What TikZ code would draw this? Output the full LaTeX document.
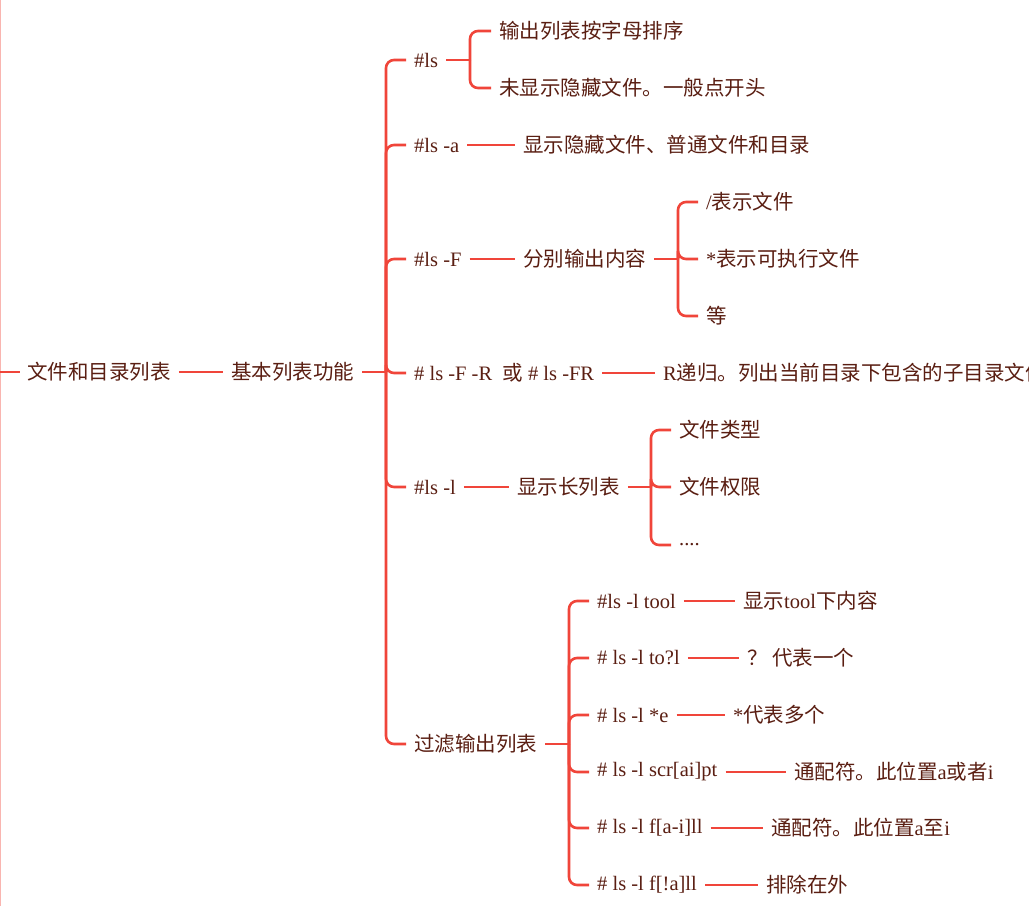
\documentclass[tikz,border=0pt]{standalone}
\usepackage{fontspec}
\setmainfont{Liberation Serif}
\newfontfamily\cjk{Noto Sans CJK SC}
\definecolor{ln}{HTML}{F0453A}
\definecolor{tx}{HTML}{5A1E12}
\begin{document}
\begin{tikzpicture}[x=1pt,y=-1pt,
  c/.style={draw=ln,line width=2.6pt,rounded corners=8pt},
  t/.style={anchor=west,inner xsep=8pt,inner ysep=2pt,text=tx,font=\fontsize{20.5}{24}\selectfont}]
\clip (0,0) rectangle (1029,906);
\fill[white] (0,0) rectangle (1029,906);
\draw[ln!40,line width=1pt] (0.5,0) -- (0.5,906);
\coordinate (L) at (0,372);
\newcommand\N[4]{\node[t] (#1) at (#2-8,#3) {#4};}
\N{r}{27}{372}{\cjk 文件和目录列表}
\N{b}{231}{372}{\cjk 基本列表功能}
\N{l1}{414}{60}{\#ls}
\N{l2}{414}{145}{\#ls -a}
\N{l3}{414}{259}{\#ls -F}
\N{l4}{414}{373}{\# ls -F -R\ \ {\cjk 或} \# ls -FR}
\N{l5}{414}{487}{\#ls -l}
\N{l6}{414}{744}{\cjk 过滤输出列表}
\N{a1}{499}{31}{\cjk 输出列表按字母排序}
\N{a2}{499}{88}{\cjk 未显示隐藏文件。一般点开头}
\N{b1}{523}{145}{\cjk 显示隐藏文件、普通文件和目录}
\N{c1}{523}{259}{\cjk 分别输出内容}
\N{c11}{706}{202}{/{\cjk 表示文件}}
\N{c12}{706}{259}{*{\cjk 表示可执行文件}}
\N{c13}{706}{316}{\cjk 等}
\N{d1}{663}{373}{R{\cjk 递归。列出当前目录下包含的子目录文件}}
\N{e1}{517}{487}{\cjk 显示长列表}
\N{e11}{679}{430}{\cjk 文件类型}
\N{e12}{679}{487}{\cjk 文件权限}
\N{e13}{679}{545}{....}
\N{f1}{597}{601}{\#ls -l tool}
\N{f2}{597}{658}{\# ls -l to?l}
\N{f3}{597}{715}{\# ls -l *e}
\N{f4}{597}{772}{\# ls -l scr[ai]pt}
\N{f5}{597}{828}{\# ls -l f[a-i]ll}
\N{f6}{597}{885}{\# ls -l f[!a]ll}
\N{g1}{743}{601}{{\cjk 显示}tool{\cjk 下内容}}
\N{g2}{747}{658}{{\cjk ？ 代表一个}}
\N{g3}{733}{715}{*{\cjk 代表多个}}
\N{g4}{794}{772}{{\cjk 通配符。此位置}a{\cjk 或者}i}
\N{g5}{771}{828}{{\cjk 通配符。此位置}a{\cjk 至}i}
\N{g6}{766}{885}{\cjk 排除在外}
\draw[c] (L) -- ++(20,0);
\draw[c] (r.east) -- (b.west);
\draw[c] (l2.east) -- (b1.west);
\draw[c] (l3.east) -- (c1.west);
\draw[c] (l4.east) -- (d1.west);
\draw[c] (l5.east) -- (e1.west);
\foreach \i in {1,...,6}{\draw[c] (f\i.east) -- (g\i.west);}
\coordinate (bs) at (386,372);
\coordinate (s1) at (470,60);
\coordinate (s3) at (678,259);
\coordinate (s5) at (651,487);
\coordinate (s6) at (569,744);
\draw[c] (b.east) -- (bs);
\foreach \k in {l1,l2,l3,l4,l5,l6}{\draw[c] (bs) |- (\k.west);}
\draw[c] (l1.east) -- (s1);
\foreach \k in {a1,a2}{\draw[c] (s1) |- (\k.west);}
\draw[c] (c1.east) -- (s3);
\foreach \k in {c11,c12,c13}{\draw[c] (s3) |- (\k.west);}
\draw[c] (e1.east) -- (s5);
\foreach \k in {e11,e12,e13}{\draw[c] (s5) |- (\k.west);}
\draw[c] (l6.east) -- (s6);
\foreach \k in {f1,f2,f3,f4,f5,f6}{\draw[c] (s6) |- (\k.west);}
\end{tikzpicture}
\end{document}
